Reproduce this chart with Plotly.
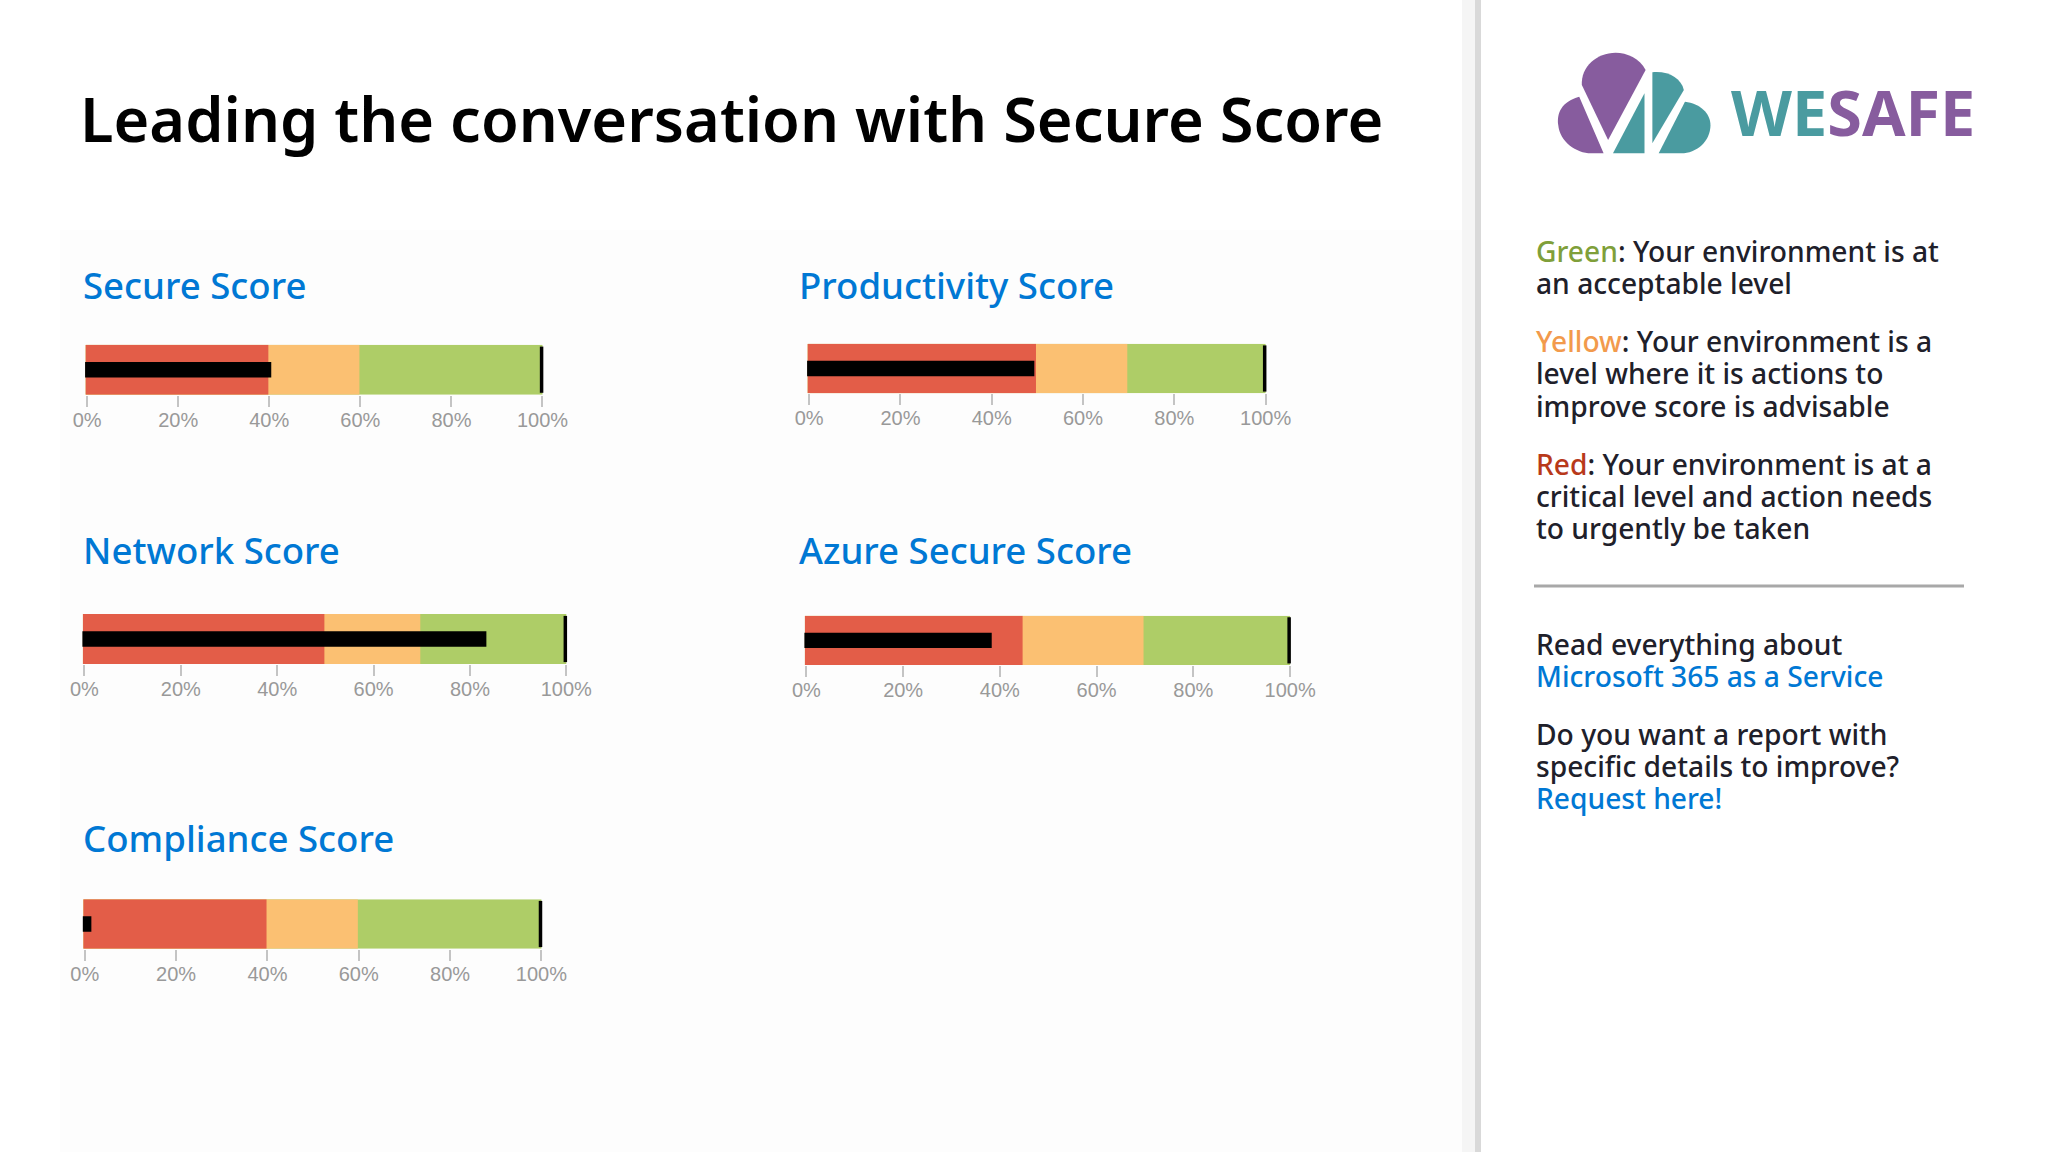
import plotly.graph_objects as go

W, H = 2048, 1152
BODY_FONT = "Noto Sans"

# score data, in percent
score_names = ["Secure Score", "Productivity Score", "Network Score", "Azure Secure Score", "Compliance Score"]
red_ends = [39.8, 49.7, 49.8, 44.7, 39.8]
orange_ends = [59.8, 69.7, 69.7, 69.7, 59.8]
green_ends = [100, 100, 100, 100, 100]
measures = [40, 48.9, 83, 37.9, 1.0]
targets = [99.8, 99.8, 99.8, 99.8, 99.8]
tick_values = [0, 20, 40, 60, 80, 100]
tick_labels = ["0%", "20%", "40%", "60%", "80%", "100%"]

# where each bullet sits on the slide (pixels)
panel_x0 = [87.1, 809.1, 84.4, 806.4, 84.8]
panel_x1 = [542.5, 1265.6, 566.3, 1290.1, 541.4]
panel_top = [344.7, 343.7, 614, 615.7, 899.3]
panel_bottom = [394.7, 393.3, 664, 665, 948.7]
heading_x = [80.7, 796.7, 80.7, 796.7, 80.7]
heading_y = [285, 285, 550, 550, 838]

BLUE = "#0078D4"
DARK = "#20202A"

panel_lines = [
    ('<span style="color:#7F9F3A">Green</span>: Your environment is at', 251),
    ("an acceptable level", 283),
    ('<span style="color:#F29A4C">Yellow</span>: Your environment is a', 341),
    ("level where it is actions to", 373),
    ("improve score is advisable", 406),
    ('<span style="color:#B8391A">Red</span>: Your environment is at a', 464),
    ("critical level and action needs", 496),
    ("to urgently be taken", 528),
    ("Read everything about", 644),
    (f'<span style="color:{BLUE}">Microsoft 365 as a Service</span>', 676),
    ("Do you want a report with", 734),
    ("specific details to improve?", 766),
    (f'<span style="color:{BLUE}">Request here!</span>', 798),
]


def px(x):
    return x / W


def py(y):
    return 1 - y / H


def logo_path(cmds):
    out = []
    for c, pts in cmds:
        coords = " ".join(f"{px(1460 + u / 2.667):.5f},{py(30 + v / 3):.5f}" for u, v in pts)
        out.append(f"{c}{coords}")
    return " ".join(out) + " Z"


PURPLE = "#875C9E"
TEAL = "#4A9BA0"
logo_shapes = [
    (PURPLE, [("M", [(318, 200)]), ("C", [(270, 215), (258, 250), (262, 285)]),
              ("C", [(266, 335), (310, 370), (350, 370)]), ("L", [(383, 370)])]),
    (PURPLE, [("M", [(495, 120)]), ("C", [(480, 85), (445, 68), (415, 68)]),
              ("C", [(365, 68), (322, 110), (325, 165)]), ("L", [(395, 330)])]),
    (TEAL, [("M", [(492, 190)]), ("L", [(492, 370)]), ("L", [(408, 370)])]),
    (TEAL, [("M", [(513, 127)]), ("C", [(555, 122), (590, 145), (597, 180)]), ("L", [(513, 340)])]),
    (TEAL, [("M", [(600, 215)]), ("C", [(640, 220), (668, 250), (668, 285)]),
            ("C", [(668, 335), (630, 370), (590, 370)]), ("L", [(530, 370)])]),
]

fig = go.Figure()
BAND_START = -0.3
AXIS_PAD = 1.5  # percent of axis kept free each side so bars can overhang 0

for i, name in enumerate(score_names):
    n = "" if i == 0 else str(i + 1)
    xref, yref = f"x{n}", f"y{n}"
    for end, color in [(green_ends[i], "#AECD67"), (orange_ends[i], "#FBC072"), (red_ends[i], "#E35D48")]:
        fig.add_trace(go.Bar(
            x=[end - BAND_START], y=[0.5], base=BAND_START, width=1, orientation="h",
            marker=dict(color=color, line=dict(width=0)),
            xaxis=xref, yaxis=yref, cliponaxis=False, showlegend=False, hoverinfo="skip",
        ))
    fig.add_trace(go.Bar(
        x=[measures[i]], y=[0.5], width=0.23, orientation="h",
        marker=dict(color="#000000", line=dict(color="#000000", width=4)),
        xaxis=xref, yaxis=yref, cliponaxis=False, showlegend=False, hoverinfo="skip",
    ))
    fig.add_trace(go.Scatter(
        x=[targets[i]], y=[0.5], mode="markers",
        marker=dict(symbol="line-ns", size=33, line=dict(color="#000000", width=3.5)),
        xaxis=xref, yaxis=yref, cliponaxis=False, showlegend=False, hoverinfo="skip",
    ))
    pad_px = (panel_x1[i] - panel_x0[i]) * AXIS_PAD / 100
    fig.update_layout({
        f"xaxis{n}": dict(
            domain=[px(panel_x0[i] - pad_px), px(panel_x1[i] + pad_px)],
            range=[-AXIS_PAD, 100 + AXIS_PAD], anchor=yref,
            tickmode="array", tickvals=tick_values, ticktext=tick_labels,
            ticks="outside", ticklen=11, tickwidth=1.5, tickcolor="#C4C4C4",
            tickfont=dict(family="Liberation Sans", size=20, color="#999999"),
            ticklabelstandoff=-4,
            showgrid=False, zeroline=False, showline=False,
        ),
        f"yaxis{n}": dict(
            domain=[py(panel_bottom[i]), py(panel_top[i])], range=[0, 1], anchor=xref,
            visible=False, fixedrange=True,
        ),
    })

shapes = [
    dict(type="rect", xref="paper", yref="paper", x0=px(60), x1=px(1462), y0=0, y1=py(230),
         fillcolor="#FDFDFD", line_width=0, layer="below"),
    dict(type="rect", xref="paper", yref="paper", x0=px(1462), x1=px(1475), y0=0, y1=1,
         fillcolor="#F5F5F5", line_width=0, layer="below"),
    dict(type="rect", xref="paper", yref="paper", x0=px(1475), x1=px(1481), y0=0, y1=1,
         fillcolor="#D9D9D9", line_width=0, layer="below"),
    dict(type="line", xref="paper", yref="paper", x0=px(1534), x1=px(1964), y0=py(586), y1=py(586),
         line=dict(color="#A8A8A8", width=3)),
]
for color, cmds in logo_shapes:
    shapes.append(dict(type="path", xref="paper", yref="paper", path=logo_path(cmds),
                       fillcolor=color, line_width=0))

annotations = [
    dict(text="Leading the conversation with Secure Score", x=px(77.5), y=py(118),
         font=dict(family=BODY_FONT, size=61.3, color="#000000", weight=600)),
    dict(text=f'<span style="color:{TEAL}">WE</span><span style="color:{PURPLE}">SAFE</span>',
         x=px(1729), y=py(112), font=dict(family=BODY_FONT, size=63, weight=700)),
]
for name, x, y in zip(score_names, heading_x, heading_y):
    annotations.append(dict(text=name, x=px(x), y=py(y),
                            font=dict(family=BODY_FONT, size=36.6, color=BLUE, weight=500)))
for text, y in panel_lines:
    annotations.append(dict(text=text, x=px(1533.7), y=py(y),
                            font=dict(family=BODY_FONT, size=28.2, color=DARK, weight=500)))
for a in annotations:
    a.update(xref="paper", yref="paper", xanchor="left", yanchor="middle", showarrow=False, align="left")

fig.update_layout(
    width=W, height=H, margin=dict(l=0, r=0, t=0, b=0, pad=0, autoexpand=False),
    paper_bgcolor="#FFFFFF", plot_bgcolor="rgba(0,0,0,0)",
    barmode="overlay", shapes=shapes, annotations=annotations,
)

fig.write_html("out.html", config={"displayModeBar": False}, post_script="document.body.style.margin='0';")
